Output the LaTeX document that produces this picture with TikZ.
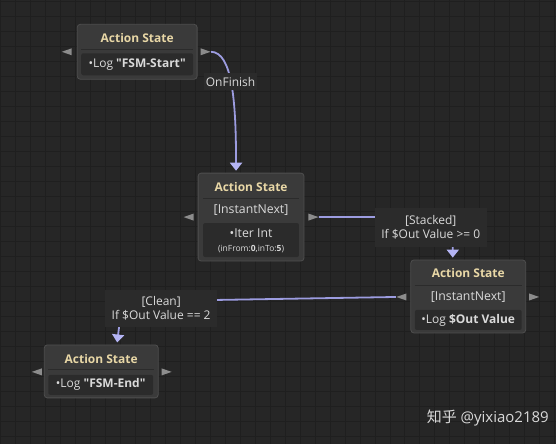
\documentclass[tikz,border=0pt]{standalone}
\usepackage{fontspec}
\setmainfont{Open Sans}[Ligatures=TeXOff]
\newfontfamily\cjk{Noto Sans CJK SC}
\usetikzlibrary{arrows.meta, shapes.geometric}

\definecolor{canvas}{HTML}{262626}
\definecolor{gridline}{HTML}{1F1F1F}
\definecolor{statefill}{HTML}{3A3A3A}
\definecolor{stateline}{HTML}{4E4E4E}
\definecolor{innerfill}{HTML}{2B2B2B}
\definecolor{titletext}{HTML}{E8D7A6}
\definecolor{bodytext}{HTML}{DADADA}
\definecolor{wirecol}{HTML}{9C9CE0}
\definecolor{tipcol}{HTML}{B4B4F4}
\definecolor{portcol}{HTML}{8C8C8C}
\definecolor{labelfill}{HTML}{2B2B2B}

\pgfdeclarelayer{grid}
\pgfdeclarelayer{wires}
\pgfsetlayers{grid,wires,main}

\begin{document}
\begin{tikzpicture}[
    x=1pt, y=-1pt,
    state/.style={
        draw=stateline, fill=statefill, rounded corners=3pt,
        line width=0.8pt, inner sep=0pt
    },
    slot/.style={
        fill=innerfill, rounded corners=2pt, inner sep=0pt, align=center,
        font=\fontsize{12}{14}\selectfont, text=bodytext
    },
    title/.style={font=\bfseries\fontsize{12}{14}\selectfont, text=titletext, inner sep=0pt},
    tag/.style={font=\fontsize{12.3}{14}\selectfont, text=bodytext, inner sep=0pt},
    sep/.style={draw=innerfill, line width=1pt},
    port/.style={
        isosceles triangle, isosceles triangle stretches, fill=portcol,
        minimum width=7pt, minimum height=10pt, inner sep=0pt
    },
    cond/.style={
        fill=labelfill, align=center, text=bodytext,
        font=\fontsize{12}{14}\selectfont, inner sep=0pt
    },
    wire/.style={draw=wirecol, line width=1.8pt},
    arr/.style={wire, -{Triangle[length=8pt, width=12pt, color=tipcol, fill=tipcol]}}
]

%% ---- Canvas and grid ----
\begin{pgfonlayer}{grid}
\fill[canvas] (0,0) rectangle (556,444);
\foreach \gx in {0,15,...,555} \draw[gridline, line width=0.7pt] (\gx,0) -- (\gx,444);
\foreach \gy in {1.5,16.5,...,443} \draw[gridline, line width=0.7pt] (0,\gy) -- (556,\gy);
\end{pgfonlayer}

%% ---- States ----

% FSM-Start (top left)
\node[state, minimum width=120, minimum height=55] at (137,51.5) (start) {};
\node[title] at (137,38) (starttitle) {Action State};
\draw[sep] (81,49) -- (193,49);
\node[slot, minimum width=112, minimum height=22] at (137,64) (startlog) {•Log \textbf{"FSM-Start"}};
\node[port, shape border rotate=180] at (69,51.5) (startin) {};
\node[port] at (203,51.5) (startout) {};

% Iter Int (middle)
\node[state, minimum width=106, minimum height=88] at (251,217) (iter) {};
\node[title] at (251,187) (itertitle) {Action State};
\draw[sep] (203,198) -- (299,198);
\node[tag] at (251,210) (itermode) {[InstantNext]};
\node[slot, minimum width=96, minimum height=34] at (251,240) (iterbody) {};
\node[tag] at (251,233) (iterint) {•Iter Int};
\node[tag, font=\fontsize{8.5}{10}\selectfont] at (251,249) (iterargs) {(inFrom:\textbf{0},inTo:\textbf{5})};
\node[port, shape border rotate=180] at (191,217) (iterin) {};
\node[port] at (311,217) (iterout) {};

% Log $Out Value (right)
\node[state, minimum width=115, minimum height=73] at (468.5,296.5) (logout) {};
\node[title] at (468.5,273) (logtitle) {Action State};
\draw[sep] (415,286) -- (522,286);
\node[tag] at (468.5,297) (logmode) {[InstantNext]};
\node[slot, minimum width=107, minimum height=20] at (468.5,320) (logbody) {•Log \textbf{\$Out Value}};
\node[port, shape border rotate=180] at (404,297) (login) {};
\node[port] at (532,297) (logoutport) {};

% FSM-End (bottom left)
\node[state, minimum width=114, minimum height=53] at (101,371.5) (finish) {};
\node[title] at (101,359) (finishtitle) {Action State};
\draw[sep] (48,370) -- (154,370);
\node[slot, minimum width=105, minimum height=20] at (100.5,385) (finishlog) {•Log \textbf{"FSM-End"}};
\node[port, shape border rotate=180] at (39,372) (finishin) {};
\node[port] at (164,372) (finishout) {};

%% ---- Transition labels ----
\node[cond, minimum width=53, minimum height=17] at (230.5,81.5) (onfinish) {OnFinish};
\node[cond, minimum width=112, minimum height=39] at (431,227) (stacked) {[Stacked]\\If \$Out Value >= 0};
\node[cond, minimum width=112, minimum height=37] at (161,308.5) (clean) {[Clean]\\If \$Out Value == 2};

%% ---- Wires ----
\begin{pgfonlayer}{wires}
% Start -> Iter
\draw[arr] (startout.east) .. controls (232,52) and (236,100) ..
    ([xshift=-15pt, yshift=2pt]iter.north);
% Iter -> Log (stacked)
\draw[arr] (iterout.east) -- (400,217) .. controls (453,217) ..
    ([xshift=-15.5pt, yshift=2pt]logout.north);
% Log -> End (clean)
\draw[arr] (login.west) -- (215,300) .. controls (122,300) ..
    ([xshift=16pt, yshift=2pt]finish.north);
\end{pgfonlayer}

% watermark
\node[text=bodytext, font=\fontsize{15}{17}\selectfont, inner sep=0pt] at (488,418) (mark) {{\cjk 知乎} @yixiao2189};

\end{tikzpicture}
\end{document}
